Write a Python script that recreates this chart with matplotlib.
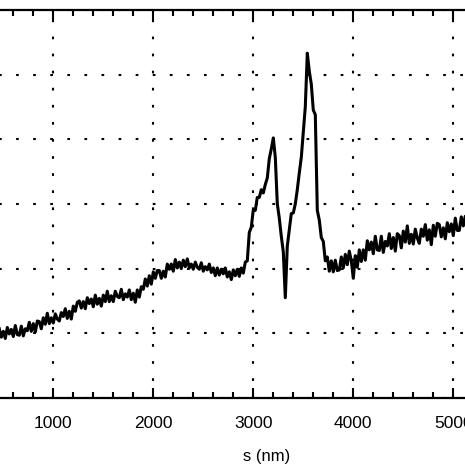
import numpy as np
import matplotlib
matplotlib.use('Agg')
import matplotlib.pyplot as plt
from matplotlib.ticker import MultipleLocator, FixedFormatter, FixedLocator

# sample positions (nm): 460, 480, ... 5140
x_start = 460
x_step = 20

# signal, one row per 200 nm
signal = [
    1.07, 0.94, 1.03, 0.92, 1.09, 0.99, 1.06, 0.95, 1.12, 0.98,
    0.97, 1.11, 0.96, 1.07, 1.04, 1.17, 1.03, 1.15, 1.02, 1.19,
    1.18, 1.07, 1.24, 1.14, 1.31, 1.15, 1.24, 1.16, 1.30, 1.22,
    1.19, 1.32, 1.26, 1.38, 1.23, 1.34, 1.22, 1.42, 1.34, 1.48,
    1.50, 1.39, 1.49, 1.38, 1.55, 1.46, 1.53, 1.41, 1.59, 1.45,
    1.54, 1.42, 1.59, 1.49, 1.65, 1.49, 1.58, 1.49, 1.65, 1.57,
    1.55, 1.68, 1.52, 1.61, 1.56, 1.67, 1.52, 1.62, 1.48, 1.67,
    1.56, 1.72, 1.68, 1.84, 1.73, 1.89, 1.76, 1.95, 1.85, 1.97,
    1.97, 1.85, 1.96, 1.87, 2.07, 1.99, 2.07, 1.96, 2.14, 2.01,
    2.10, 2.00, 2.13, 2.03, 2.15, 2.01, 2.07, 1.99, 2.10, 2.02,
    1.99, 2.09, 1.96, 2.03, 1.98, 2.07, 1.94, 2.01, 1.89, 2.01,
    1.90, 1.99, 1.92, 2.01, 1.87, 1.95, 1.83, 1.98, 1.89, 1.99,
    1.88, 2.01, 1.93, 2.10, 2.12, 2.56, 2.64, 2.91, 2.90, 3.10,
    3.10, 3.22, 3.17, 3.30, 3.40, 3.70, 3.85, 4.02, 3.72, 3.00,
    2.78, 2.50, 2.26, 1.55, 2.35, 2.60, 2.85, 2.86, 3.00, 3.22,
    3.48, 3.72, 4.10, 4.50, 5.33, 5.05, 4.85, 4.45, 4.38, 2.90,
    2.75, 2.48, 2.42, 2.12, 2.18, 1.96, 2.12, 1.95, 2.13, 1.97,
    1.98, 2.18, 2.01, 2.22, 2.06, 2.27, 2.12, 1.85, 2.20, 2.02,
    2.29, 2.11, 2.29, 2.13, 2.43, 2.29, 2.41, 2.23, 2.50, 2.29,
    2.28, 2.50, 2.25, 2.42, 2.35, 2.54, 2.31, 2.48, 2.27, 2.54,
    2.51, 2.32, 2.58, 2.41, 2.66, 2.39, 2.53, 2.38, 2.61, 2.47,
    2.39, 2.61, 2.50, 2.68, 2.44, 2.60, 2.37, 2.67, 2.50, 2.70,
    2.68, 2.49, 2.63, 2.46, 2.71, 2.57, 2.69, 2.51, 2.78, 2.59,
    2.59, 2.80, 2.66, 2.81, 2.70,
]
s_nm = x_start + x_step * np.arange(len(signal))

x_ticks = [1000, 2000, 3000, 4000, 5000]
x_ticklabels = ['1000', '2000', '3000', '4000', '5000']

plt.rcParams['font.family'] = ['Liberation Sans', 'DejaVu Sans']

fig = plt.figure(figsize=(4.65, 4.65), dpi=100)
# the visible picture is a crop: axes run past the left and right edges
ax = fig.add_axes([-46.7 / 465, 67 / 465, 627.4 / 465, 388.2 / 465])

ax.plot(s_nm, signal, color='black', linewidth=2.2)

ax.set_xlim(0, 6274)
ax.set_ylim(0, 6)
ax.xaxis.set_major_locator(FixedLocator(x_ticks))
ax.xaxis.set_major_formatter(FixedFormatter(x_ticklabels))
ax.xaxis.set_minor_locator(MultipleLocator(200))
ax.yaxis.set_major_locator(MultipleLocator(1))

ax.grid(True, which='major', color='black', linewidth=1.5, linestyle=(0, (1.3, 6.9)))
ax.tick_params(which='both', direction='in', top=True, right=True, width=1.5)
ax.tick_params(which='major', length=7)
ax.tick_params(which='minor', length=4)
ax.tick_params(axis='x', labelsize=12.5, pad=13)
ax.set_yticklabels([])
for sp in ax.spines.values():
    sp.set_linewidth(1.6)

ax.set_xlabel('s (nm)', fontsize=12, labelpad=13)

fig.savefig('out.png', dpi=100)
